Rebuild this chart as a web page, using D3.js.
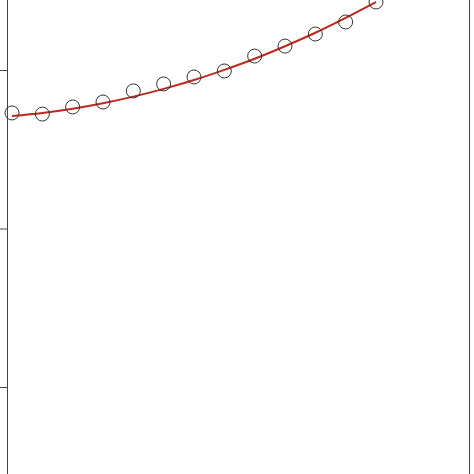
<!DOCTYPE html><html><head><script src="https://cdn.jsdelivr.net/npm/d3@7"></script>
<style>body{margin:0;background:#fff}</style></head><body><svg id="c" width="474" height="474"></svg>
<script>
const xIdx=[0,1,2,3,4,5,6,7,8,9,10,11,12];
const observed=[2.729,2.722,2.767,2.798,2.868,2.912,2.956,2.994,3.088,3.151,3.227,3.303,3.429];
const fitted=[2.710,2.729,2.756,2.790,2.832,2.881,2.937,3.001,3.071,3.150,3.235,3.329,3.429];
const yTicks=[1,2,3];
const svg=d3.select("#c");
const x=d3.scaleLinear().domain([0,12]).range([12,376]);
const y=d3.scaleLinear().domain([1,3]).range([387,70]);
svg.append("g").attr("transform","translate(7,0)")
 .call(d3.axisLeft(y).tickValues(yTicks).tickSize(7).tickFormat(""))
 .call(g=>{g.select(".domain").remove();g.selectAll("line").attr("stroke","#444");});
svg.append("line").attr("x1",7.5).attr("x2",7.5).attr("y1",0).attr("y2",474).attr("stroke","#444");
svg.append("line").attr("x1",469.5).attr("x2",469.5).attr("y1",0).attr("y2",474).attr("stroke","#444");
svg.append("path").datum(xIdx).attr("fill","none").attr("stroke","#c0281e").attr("stroke-width",2)
 .attr("d",d3.line().x(i=>x(i)).y(i=>y(fitted[i])).curve(d3.curveMonotoneX));
svg.selectAll("circle").data(xIdx).join("circle").attr("cx",i=>x(i)).attr("cy",i=>y(observed[i]))
 .attr("r",7).attr("fill","none").attr("stroke","#333").attr("stroke-width",1);
</script></body></html>
